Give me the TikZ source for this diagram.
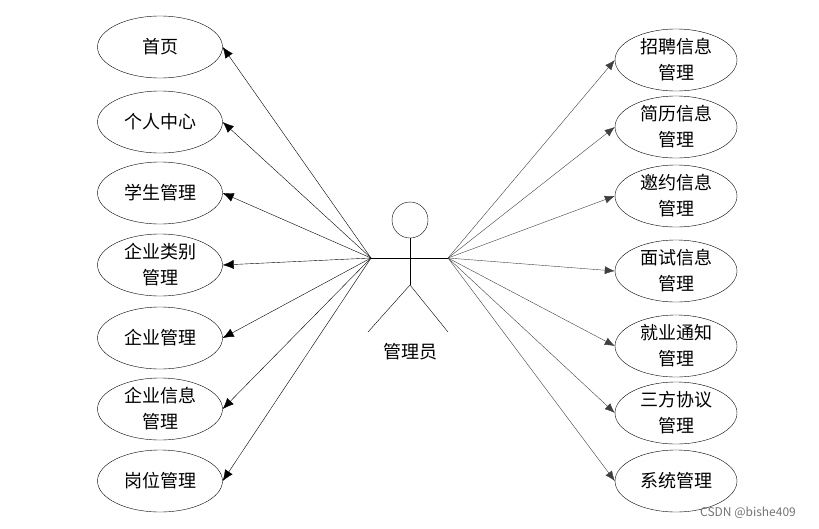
\documentclass[tikz,border=0pt]{standalone}
\usepackage{fontspec}
\setmainfont{Noto Sans CJK SC}
\usetikzlibrary{arrows.meta,shapes.geometric}

\begin{document}
\begin{tikzpicture}[x=1pt,y=-1pt,
    usecase/.style={draw,ellipse,minimum width=125pt,minimum height=62pt,inner sep=0pt,align=center,font=\fontsize{18}{26}\selectfont},
    leftarrow/.style={-{Latex[length=11pt,width=9pt]}},
    rightarrow/.style={draw=black!75,-{Latex[length=10pt,width=8pt]}}]
    \useasboundingbox (0,0) rectangle (819,528);
    % actor
    \draw (410,220) circle (18);
    \draw (410,238) -- (410,285);
    \coordinate (la) at (371,258);
    \coordinate (ra) at (448,258);
    \draw (la) -- (ra);
    \draw (368,332) -- (410,285) -- (448,332);
    \node[font=\fontsize{18}{26}\selectfont] (actor) at (410,352) {管理员};
    % left use cases
    \node[usecase] (u1) at (160,47) {首页};
    \node[usecase] (u2) at (160,122) {个人中心};
    \node[usecase] (u3) at (160,193) {学生管理};
    \node[usecase] (u4) at (160,265) {企业类别\\管理};
    \node[usecase] (u5) at (160,338) {企业管理};
    \node[usecase] (u6) at (160,409) {企业信息\\管理};
    \node[usecase] (u7) at (160,481) {岗位管理};
    % right use cases
    \node[usecase,minimum width=122pt] (v1) at (676,60) {招聘信息\\管理};
    \node[usecase,minimum width=122pt] (v2) at (676,127) {简历信息\\管理};
    \node[usecase,minimum width=122pt] (v3) at (676,196) {邀约信息\\管理};
    \node[usecase,minimum width=122pt] (v4) at (676,271) {面试信息\\管理};
    \node[usecase,minimum width=122pt] (v5) at (676,346) {就业通知\\管理};
    \node[usecase,minimum width=122pt] (v6) at (676,413) {三方协议\\管理};
    \node[usecase,minimum width=122pt] (v7) at (676,481) {系统管理};
    \foreach \i in {1,...,7} {
        \draw[leftarrow] (la) -- (u\i.east);
        \draw[rightarrow] (ra) -- (v\i.west);
    }
    \node[text=black!55,font=\fontsize{12}{14}\selectfont] (mark) at (748,513) {CSDN @bishe409};
\end{tikzpicture}
\end{document}
